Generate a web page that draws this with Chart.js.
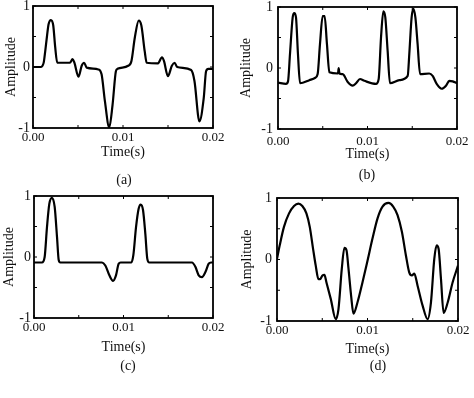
<!DOCTYPE html>
<html>
<head>
<meta charset="utf-8">
<script src="https://cdn.jsdelivr.net/npm/chart.js@4.4.0/dist/chart.umd.min.js"></script>
<style>
  html, body { margin: 0; padding: 0; background: #fff; }
  body { width: 474px; height: 398px; position: relative; overflow: hidden;
         font-family: "Liberation Serif", "Times New Roman", serif; }
  canvas { position: absolute; }
  .cap { position: absolute; width: 40px; text-align: center; font-size: 14px;
         line-height: 16px; color: #111; }
</style>
</head>
<body>
<canvas id="chartA" width="237" height="190" style="left:0;top:0"></canvas>
<canvas id="chartB" width="237" height="190" style="left:237px;top:0"></canvas>
<canvas id="chartC" width="237" height="208" style="left:0;top:190px"></canvas>
<canvas id="chartD" width="237" height="208" style="left:237px;top:190px"></canvas>
<div class="cap" style="left:104px;top:172px">(a)</div>
<div class="cap" style="left:347px;top:167px">(b)</div>
<div class="cap" style="left:108px;top:358px">(c)</div>
<div class="cap" style="left:358px;top:358px">(d)</div>
<script>
// time in ms, amplitude
const timeA = [0, 0.9, 1.05, 1.2, 1.36, 1.55, 1.73, 1.99, 2.25, 2.47, 2.69, 4.1, 4.4, 4.6, 5.05, 5.41, 5.67, 5.97, 7.26, 7.62,
  7.99, 8.47, 8.84, 9.21, 9.39, 10.57, 10.94, 11.31, 11.75, 12.04, 12.41, 12.63, 13.89, 14.33, 14.55, 14.99, 15.43, 15.73, 16.02, 17.57,
  17.94, 18.49, 18.97, 19.23, 19.48, 20];
const ampA = [0, 0, 0.02, 0.08, 0.26, 0.5, 0.7, 0.77, 0.68, 0.32, 0.07, 0.07, 0.13, 0.07, -0.16, 0.02, 0.07, -0.01, -0.04, -0.12,
  -0.56, -0.99, -0.62, -0.07, -0.03, 0.02, 0.1, 0.48, 0.76, 0.68, 0.26, 0.07, 0.06, 0.16, 0.1, -0.15, 0.02, 0.07, 0, -0.05,
  -0.23, -0.89, -0.51, -0.07, -0.03, -0.03];

const timeB = [0, 0.89, 1.12, 1.34, 1.64, 1.82, 2.01, 2.23, 2.46, 3.5, 4.17, 4.43, 4.69, 4.99, 5.21, 5.47, 5.74, 6.7, 6.78, 6.86,
  7.23, 7.79, 8.34, 8.72, 9.16, 9.65, 10.95, 11.25, 11.51, 11.77, 11.99, 12.25, 12.51, 13.56, 14.49, 14.67, 14.93, 15.12, 15.35, 15.6,
  15.87, 16.9, 17.28, 17.73, 18.29, 18.77, 19.14, 19.52, 20];
const ampB = [-0.24, -0.26, -0.22, 0.23, 0.83, 0.9, 0.83, 0.23, -0.25, -0.2, -0.16, -0.1, 0.39, 0.85, 0.85, 0.39, -0.07, -0.09, 0, -0.09,
  -0.1, -0.23, -0.29, -0.25, -0.18, -0.21, -0.26, -0.18, 0.5, 0.93, 0.83, 0.28, -0.25, -0.2, -0.13, 0.23, 0.83, 0.97, 0.83, 0.39,
  -0.1, -0.09, -0.13, -0.26, -0.34, -0.29, -0.21, -0.22, -0.25];

const timeC = [0, 0.89, 1.19, 1.45, 1.71, 2.01, 2.31, 2.57, 2.76, 2.94, 7.6, 7.97, 8.42, 8.83, 9.16, 9.46, 9.68,
  10.88, 11.1, 11.4, 11.69, 11.92, 12.18, 12.44, 12.66, 12.89, 17.65, 18.03, 18.4, 18.77, 19.14, 19.52, 19.78, 20];
const ampC = [-0.09, -0.09, 0, 0.49, 0.87, 0.97, 0.82, 0.33, -0.05, -0.09, -0.09, -0.14, -0.3, -0.39, -0.3, -0.11, -0.09,
  -0.09, 0.03, 0.49, 0.79, 0.86, 0.77, 0.38, -0.03, -0.09, -0.09, -0.16, -0.3, -0.33, -0.25, -0.11, -0.09, -0.09];

const timeD = [0, 0.3, 0.77, 1.33, 1.88, 2.36, 2.8, 3.25, 3.62, 3.99, 4.28, 4.58, 4.76, 5.02, 5.24, 5.46, 5.94, 6.49, 6.79, 7.16,
  7.45, 7.68, 7.9, 8.19, 8.45, 8.89, 9.45, 10.0, 10.55, 11.11, 11.66, 12.32, 12.84, 13.32, 13.8, 14.24, 14.61, 14.91, 15.17, 15.54,
  16.09, 16.64, 17.01, 17.38, 17.64, 17.86, 18.12, 18.41, 18.86, 19.41, 20];
const ampD = [0.01, 0.23, 0.53, 0.75, 0.87, 0.91, 0.87, 0.75, 0.53, 0.17, -0.1, -0.32, -0.32, -0.26, -0.25, -0.37, -0.64, -0.97, -0.81, -0.15,
  0.19, 0.15, -0.15, -0.59, -0.88, -0.7, -0.37, -0.02, 0.34, 0.67, 0.86, 0.92, 0.86, 0.72, 0.45, 0.07, -0.21, -0.26, -0.23, -0.43,
  -0.75, -0.97, -0.7, 0.01, 0.23, 0.17, -0.32, -0.87, -0.7, -0.37, -0.1];

const xLabel = "Time(s)";
const yLabel = "Amplitude";

const SERIF = '"Liberation Serif", "Times New Roman", serif';
Chart.defaults.font.family = SERIF;
Chart.defaults.color = "#111";

// frame box with small inward tick marks on all four sides
const frameTicks = {
  id: "frameTicks",
  afterDatasetsDraw(chart) {
    const { ctx, chartArea: a, scales } = chart;
    ctx.save();
    ctx.strokeStyle = "#000";
    ctx.lineWidth = 1;
    ctx.beginPath();
    scales.x.ticks.forEach((t) => {
      const px = scales.x.getPixelForValue(t.value);
      ctx.moveTo(px, a.bottom);
      ctx.lineTo(px, a.bottom - 3);
      ctx.moveTo(px, a.top);
      ctx.lineTo(px, a.top + 3);
    });
    scales.y.ticks.forEach((t) => {
      const py = scales.y.getPixelForValue(t.value);
      ctx.moveTo(a.left, py);
      ctx.lineTo(a.left + 3, py);
      ctx.moveTo(a.right, py);
      ctx.lineTo(a.right - 3, py);
    });
    ctx.stroke();
    ctx.lineWidth = 1.8;
    ctx.strokeRect(a.left, a.top, a.right - a.left, a.bottom - a.top);
    ctx.restore();
  },
};

function makePanel(id, times, amps, lay) {
  const ctx = document.getElementById(id).getContext("2d");
  const points = times.map((t, i) => ({ x: t / 1000, y: amps[i] }));

  return new Chart(ctx, {
    type: "line",
    data: {
      datasets: [
        {
          data: points,
          borderColor: "#000",
          borderWidth: 2.2,
          pointRadius: 0,
          cubicInterpolationMode: "monotone",
          fill: false,
        },
      ],
    },
    options: {
      responsive: false,
      animation: false,
      layout: { padding: { top: lay.top, right: lay.right, left: 0, bottom: 0 } },
      plugins: { legend: { display: false }, tooltip: { enabled: false } },
      scales: {
        x: {
          type: "linear",
          min: 0,
          max: 0.02,
          grid: { display: false, drawTicks: false },
          border: { display: false },
          ticks: {
            stepSize: 0.005,
            autoSkip: false,
            maxRotation: 0,
            padding: lay.xTickPad,
            font: { size: 13 },
            callback: (v) =>
              Math.abs(v * 100 - Math.round(v * 100)) < 1e-6 ? v.toFixed(2) : "",
          },
          title: {
            display: true,
            text: xLabel,
            font: { size: 14 },
            padding: { top: 0, bottom: lay.xTitlePad },
          },
          afterFit: (scale) => {
            scale.height = lay.xHeight;
            scale.paddingLeft = 0;
            scale.paddingRight = 0;
          },
        },
        y: {
          min: -1,
          max: 1,
          grid: { display: false, drawTicks: false },
          border: { display: false },
          ticks: {
            stepSize: 0.5,
            padding: lay.yTickPad,
            font: { size: 14 },
            callback: (v) => (Number.isInteger(v) ? String(v) : ""),
          },
          title: {
            display: true,
            text: yLabel,
            font: { size: 14 },
            padding: { top: lay.yTitlePad, bottom: 0 },
          },
          afterFit: (scale) => {
            scale.width = lay.yWidth;
            scale.paddingTop = 0;
            scale.paddingBottom = 0;
          },
        },
      },
    },
    plugins: [frameTicks],
  });
}

makePanel("chartA", timeA, ampA, { top: 6, right: 24, yWidth: 33, xHeight: 62, yTickPad: 3, xTickPad: 2, yTitlePad: 2.6, xTitlePad: 29 });
makePanel("chartB", timeB, ampB, { top: 7, right: 17, yWidth: 41, xHeight: 61, yTickPad: 5, xTickPad: 5, yTitlePad: 0.6, xTitlePad: 27 });
makePanel("chartC", timeC, ampC, { top: 6, right: 24, yWidth: 34, xHeight: 80, yTickPad: 3, xTickPad: 2, yTitlePad: 0.6, xTitlePad: 42.6 });
makePanel("chartD", timeD, ampD, { top: 8, right: 16, yWidth: 40, xHeight: 77, yTickPad: 5, xTickPad: 1.5, yTitlePad: 1.6, xTitlePad: 40.6 });
</script>
</body>
</html>
